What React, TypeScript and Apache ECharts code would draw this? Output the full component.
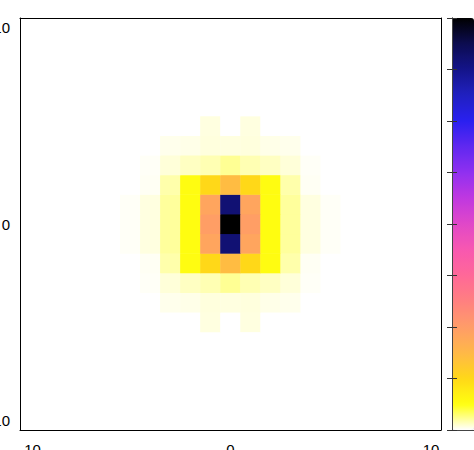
import React, { useEffect, useRef } from "react";
import * as echarts from "echarts";

// Axis categories (cell centres) and tick labels
const xCategories = ["-10","-9","-8","-7","-6","-5","-4","-3","-2","-1","0","1","2","3","4","5","6","7","8","9","10"];
const yCategories = ["-10","-9","-8","-7","-6","-5","-4","-3","-2","-1","0","1","2","3","4","5","6","7","8","9","10"];

// Non-zero core of the map: columns x = -5..5, rows y = 5 .. -5 (top to bottom).
// All cells outside this block are 0.
const coreX = [-5, -4, -3, -2, -1, 0, 1, 2, 3, 4, 5];
const coreY = [5, 4, 3, 2, 1, 0, -1, -2, -3, -4, -5];
const rowY5 = [0, 0, 0, 0, 0.008, 0, 0.008, 0, 0, 0, 0];
const rowY4 = [0, 0, 0.005, 0.006, 0.009, 0.008, 0.009, 0.006, 0.005, 0, 0];
const rowY3 = [0, 0.002, 0.01, 0.016, 0.02, 0.028, 0.02, 0.016, 0.01, 0.002, 0];
const rowY2 = [0, 0.003, 0.022, 0.068, 0.125, 0.18, 0.125, 0.068, 0.022, 0.003, 0];
const rowY1 = [0.002, 0.008, 0.026, 0.066, 0.23, 0.9, 0.23, 0.066, 0.026, 0.008, 0.002];
const rowY0 = [0.002, 0.008, 0.026, 0.066, 0.245, 1.0, 0.245, 0.066, 0.026, 0.008, 0.002];
const rowYm1 = [0.002, 0.008, 0.026, 0.066, 0.23, 0.9, 0.23, 0.066, 0.026, 0.008, 0.002];
const rowYm2 = [0, 0.003, 0.022, 0.068, 0.125, 0.18, 0.125, 0.068, 0.022, 0.003, 0];
const rowYm3 = [0, 0.002, 0.01, 0.016, 0.02, 0.028, 0.02, 0.016, 0.01, 0.002, 0];
const rowYm4 = [0, 0, 0.005, 0.006, 0.009, 0.008, 0.009, 0.006, 0.005, 0, 0];
const rowYm5 = [0, 0, 0, 0, 0.008, 0, 0.008, 0, 0, 0, 0];
const coreRows = [rowY5, rowY4, rowY3, rowY2, rowY1, rowY0, rowYm1, rowYm2, rowYm3, rowYm4, rowYm5];

// Colour scale
const zMin = 0;
const zMax = 1;
const cbInterval = 0.125;
const palette = [
  "#ffffff", "#ffff10", "#ffd818", "#ffb848", "#ff9c68", "#ff8080", "#ff6898",
  "#f858b0", "#e048c8", "#c038e0", "#9030f0", "#6028f0", "#2a20f0", "#2020c0",
  "#14148a", "#0c0c50", "#000000",
];

export default function App() {
  const ref = useRef<HTMLDivElement>(null);
  useEffect(() => {
    if (!ref.current) return;
    const chart = echarts.init(ref.current, null, { renderer: "svg" });

    const data: [number, number, number][] = [];
    for (let yi = 0; yi < yCategories.length; yi++) {
      for (let xi = 0; xi < xCategories.length; xi++) {
        const xv = Number(xCategories[xi]);
        const yv = Number(yCategories[yi]);
        const ci = coreX.indexOf(xv);
        const ri = coreY.indexOf(yv);
        const v = ci >= 0 && ri >= 0 ? coreRows[ri][ci] : 0;
        data.push([xi, yi, v]);
      }
    }

    const font = "'Liberation Sans', Arial, Helvetica, sans-serif";
    const frameLine = { show: true, lineStyle: { color: "#000", width: 1 } };
    const cbLine = { show: true, lineStyle: { color: "#444", width: 1 } };

    chart.setOption({
      animation: false,
      backgroundColor: "#ffffff",
      grid: [
        { left: 20, top: 18, width: 421, height: 412, outerBoundsMode: "none", containLabel: false },
        { left: 452, top: 18, width: 22, height: 412, outerBoundsMode: "none", containLabel: false },
      ],
      xAxis: [
        {
          type: "category", gridIndex: 0, data: xCategories, position: "bottom",
          axisLine: frameLine, axisTick: { show: false }, splitLine: { show: false },
          axisLabel: { interval: 9, color: "#000", fontSize: 15, fontFamily: font, margin: 12 },
          z: 5,
        },
        {
          type: "category", gridIndex: 0, data: xCategories, position: "top",
          axisLine: frameLine, axisTick: { show: false }, splitLine: { show: false },
          axisLabel: { show: false }, z: 5,
        },
        {
          type: "value", gridIndex: 1, min: 0, max: 1, position: "bottom",
          axisLine: cbLine, axisTick: { show: false }, axisLabel: { show: false },
          splitLine: { show: false }, z: 10,
        },
        {
          type: "value", gridIndex: 1, min: 0, max: 1, position: "top",
          axisLine: cbLine, axisTick: { show: false }, axisLabel: { show: false },
          splitLine: { show: false }, z: 10,
        },
      ],
      yAxis: [
        {
          type: "category", gridIndex: 0, data: yCategories, position: "left",
          axisLine: frameLine, axisTick: { show: false }, splitLine: { show: false },
          axisLabel: { interval: 9, color: "#000", fontSize: 15, fontFamily: font, margin: 10 },
          z: 5,
        },
        {
          type: "category", gridIndex: 0, data: yCategories, position: "right",
          axisLine: frameLine, axisTick: { show: false }, splitLine: { show: false },
          axisLabel: { show: false }, z: 5,
        },
        {
          type: "value", gridIndex: 1, min: zMin, max: zMax, interval: cbInterval, position: "left",
          axisLine: cbLine, axisTick: { show: true, inside: true, length: 5, lineStyle: { color: "#333" } },
          axisLabel: { show: false }, splitLine: { show: false }, z: 10,
        },
        {
          type: "value", gridIndex: 1, min: zMin, max: zMax, interval: cbInterval, position: "right",
          axisLine: cbLine, axisTick: { show: true, inside: true, length: 5, lineStyle: { color: "#333" } },
          axisLabel: { show: false }, splitLine: { show: false }, z: 10,
        },
      ],
      visualMap: {
        type: "continuous",
        min: zMin,
        max: zMax,
        seriesIndex: 0,
        dimension: 2,
        show: true,
        left: 452,
        top: 18,
        itemWidth: 22,
        itemHeight: 412,
        padding: 0,
        calculable: false,
        hoverLink: false,
        inRange: { color: palette },
      },
      series: [
        {
          type: "heatmap",
          xAxisIndex: 0,
          yAxisIndex: 0,
          data,
          itemStyle: { borderWidth: 0 },
          emphasis: { disabled: true },
          progressive: 0,
        },
      ],
    });
    return () => chart.dispose();
  }, []);
  return (
    <div
      ref={ref}
      style={{ position: "absolute", left: 0, top: 0, width: 474, height: 450 }}
    />
  );
}
